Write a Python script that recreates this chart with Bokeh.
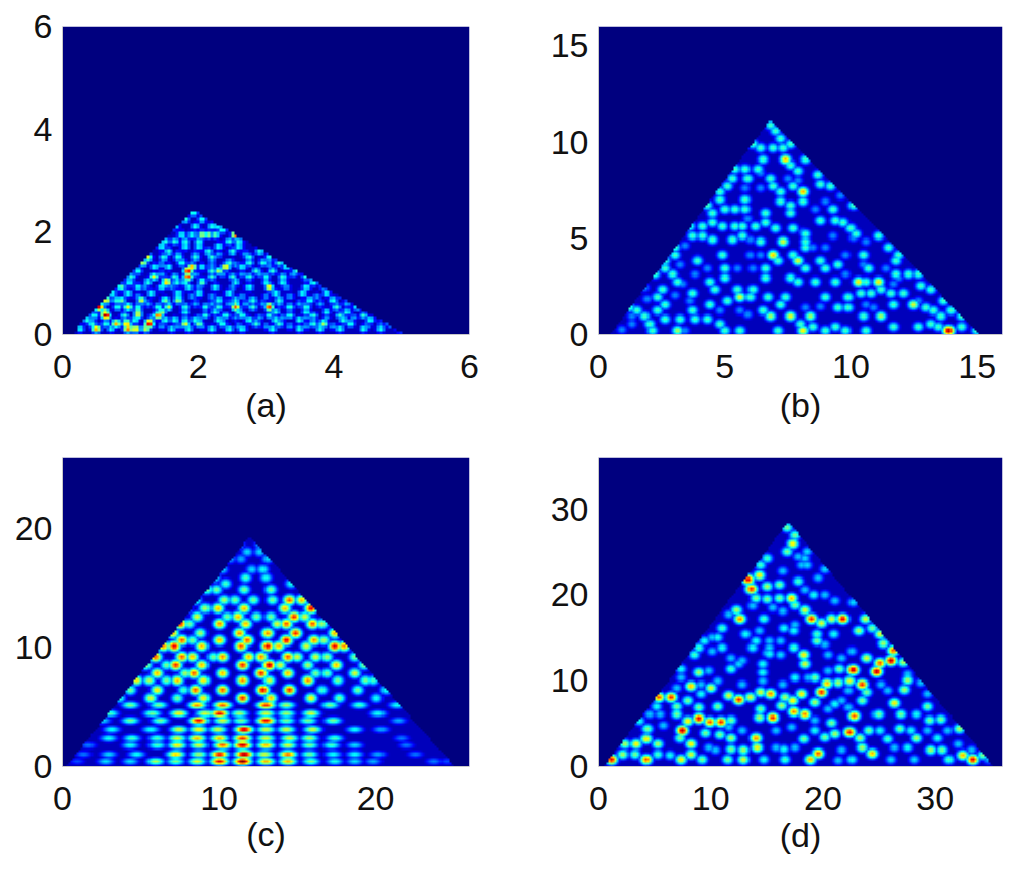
import numpy as np
from bokeh.plotting import figure
from bokeh.layouts import column, row
from bokeh.models import LinearColorMapper, FixedTicker, Title
from bokeh.embed import file_html
from bokeh.resources import INLINE

# triangle corners: left x, right x, apex x, apex y
tri_a = (0.13, 5.02, 1.92, 2.42)
tri_b = (0.47, 15.1, 6.8, 11.2)
tri_c = (0.24, 25.05, 11.95, 19.4)
tri_d = (0.47, 35.2, 16.9, 28.6)

ticks_a = [0, 2, 4, 6]
ticks_b = [0, 5, 10, 15]
ticks_c_x = [0, 10, 20]
ticks_c_y = [0, 10, 20]
ticks_d = [0, 10, 20, 30]
labels = ["(a)", "(b)", "(c)", "(d)"]

# rows: (y, [x or (x, level)])  -- bright spots
rows_a = [
 (2.37,[1.92]),(2.24,[1.8,2.05]),(2.1,[1.65,1.95,2.2,2.27]),(2.03,[2.35]),
 (1.93,[(2.55,.85),(2.05,.6),(2.15,.55),(2.25,.5),1.75,1.9]),
 (1.8,[1.5,1.65,1.8,2.0,2.45,2.6]),(1.7,[1.45,1.8,2.0,2.3,2.6]),(1.6,[1.55,2.15,2.5,2.9]),
 (1.49,[(1.25,.6),1.48,1.7,1.95,2.2,2.75,3.05]),(1.39,[(1.18,.55),1.75,2.45,2.75,2.95,3.2]),
 (1.3,[(1.9,.75),(2.4,.7),1.35,1.55,2.05,2.65,3.3]),
 (1.22,[(1.84,.9),(2.3,.55),1.1,2.2,2.85,3.1,3.45]),
 (1.1,[(1.34,.6),(1.84,.85),1.0,1.65,2.2,2.5,2.75,3.0,3.25,3.6]),
 (1.0,[(1.52,.7),.97,1.25,1.68,1.8,(2.05,.5),2.55,3.0,3.25,3.7]),
 (.9,[(.85,.5),1.1,1.45,1.85,2.25,2.75,(3.05,.7),3.6]),
 (.78,[.72,.95,1.3,1.7,2.0,2.45,3.15,3.55,3.9]),
 (.65,[(.62,.65),.78,(.85,.5),(1.15,.6),(1.5,.5),(1.7,.55),2.3,2.55,2.8,3.2,3.65,4.0]),
 (.52,[(.52,.9),.8,(.95,.6),1.1,1.4,(1.55,.55),1.8,2.1,2.3,(2.55,.8),2.8,(3.05,.85),3.35,3.6,4.05,4.35]),
 (.42,[(.6,.65),(1.1,.6),(1.45,.55),1.8,2.25,2.6,3.15,3.6,3.9,4.2]),
 (.34,[(.62,1.0),.45,.9,(1.1,.6),(1.4,.8),2.1,2.4,2.65,3.05,3.35,3.7,4.1,4.45]),
 (.25,[.35,1.05,1.5,1.65,1.95,2.3,2.75,3.15,3.5,4.15,4.55]),
 (.18,[.42,.62,(.78,.7),(.93,.7),(1.27,.95),(1.8,.6),(2.0,.5),2.35,2.85,3.2,3.7,(3.85,.55),4.25,4.85]),
 (.08,[.24,(.48,.75),.7,(.95,.8),(1.06,.7),(1.22,.6),1.6,1.85,2.2,2.45,2.65,3.1,3.5,3.8,4.1,4.45,4.7,5.0]),
]
faint_a = [
 (1.55,[1.7,1.95,2.3,2.7]),(1.35,[1.45,2.2,2.55,3.05]),(1.15,[1.45,1.95,2.35,2.65,2.9,3.4]),
 (.9,[1.2,1.6,2.0,2.5,3.3,3.85]),(.72,[1.1,1.9,2.2,2.65,3.0,3.35,3.75,4.15]),
 (.58,[1.25,1.95,2.2,2.45,2.7,2.95,3.2,3.5,3.8,4.2]),(.3,[1.3,1.8,2.0,2.55,2.9,3.25,3.6,3.9,4.3,4.7]),
 (.13,[1.45,1.7,2.05,2.6,3.0,3.35,3.6,4.0,4.5,4.7]),
]

rows_b = [
 (10.9,[6.8]),(10.6,[7.0]),(10.2,[7.2]),(9.9,[6.1,7.6]),(9.7,[6.4,6.9,7.3]),
 (9.1,[6.5,(7.4,.7),8.2]),(8.8,[7.6]),(8.6,[5.4,5.8,6.3]),(8.5,[7.9]),(8.3,[8.7]),
 (8.1,[5.3,5.9,6.8]),(7.8,[8.8]),(7.7,[5.1,6.9,7.7,9.2]),(7.4,[4.8,7.2,(8.1,.7)]),
 (7.0,[4.8,5.8]),(6.9,[7.2,8.1]),(6.7,[4.3,7.6,10.1]),(6.5,[5.0,5.4,5.8,9.3]),
 (6.3,[4.5,6.6,7.6]),(5.9,[8.8,9.4]),(5.8,[4.5,6.6,9.7]),(5.6,[3.6,4.1,4.9,5.4,5.7,6.2]),
 (5.5,[7.0,7.7,10.0]),(5.2,[8.2,10.2]),(5.1,[3.7,4.1,5.7,11.1]),(4.9,[4.5,5.3]),
 (4.8,[6.4,(7.3,.6),8.2]),(4.5,[3.0,8.2,11.5]),(4.1,[3.0,4.9,(6.9,.68),7.7,10.5,11.9]),
 (3.8,[2.6,3.9,7.1,(7.9,.6),8.8,11.8]),(3.6,[9.5]),(3.4,[2.6,5.0,6.6,8.2,9.0,10.7]),
 (3.1,[2.2,2.9,11.8,12.3,12.7]),(2.9,[5.0,6.6,7.6]),
 (2.7,[3.1,4.4,7.9,8.6,9.4,(10.3,.65),10.6,(11.1,.65)]),(2.5,[12.8]),
 (2.3,[2.5,4.6,5.5,6.1,11.2,13.2]),(2.1,[3.7,10.4,10.8,11.6,12.1]),
 (1.9,[2.3,(5.6,.6),6.0,6.7,7.4,9.0,9.9]),(1.7,[5.1,13.7]),(1.5,[2.6,4.4,7.2,11.7,(12.5,.6)]),
 (1.35,[1.2,9.5,9.9,13.0]),(1.2,[1.5,2.3,3.7,6.5,13.3,14.0]),
 (.9,[1.8,(6.8,.55),(7.6,.62),(8.4,.55),10.5,(11.2,.55),13.6,14.4]),(.75,[2.6,3.2,3.8,4.3]),
 (.5,[2.0,4.8,8.0,13.2]),(.35,[8.5,9.4,11.7,12.7,13.5,14.4]),
 (.15,[2.1,(3.1,.55),5.0,5.6,7.1,(8.1,.65),9.0,9.8,10.6,(13.9,.97),15.0]),
]
faint_b = [
 (5.5,3.4),(6.1,3.4),(5.8,7.6),(6.4,7.6),(5.9,6.0),(6.4,4.1),(6,4.9),(3.4,4.6),(3.3,2.6),(3.8,3.1),
 (4.3,3.4),(3.9,3.9),(1.9,1.8),(1.8,2.4),(3.6,1.7),(3,2),(3.2,3.6),(5.6,1.2),(4.8,1.2),(8.2,1.35),
 (8.8,1.4),(10.6,1.5),(10.9,1.35),(10.1,5),(10.6,4.8),(9.8,4.1),(9,4.5),(8.5,4.5),(10.5,3.6),(9.8,3.1),
 (9.3,5.1),(8.6,6.5),(9,6.9),(9.6,7.2),(7.9,8),(7.5,8.1),(6.4,8.4),(8.1,5.3),(5.9,1),(3.4,.15),
 (1.3,.5),(.9,.2),(1.3,.9),(6,4.1),(11.9,2.9),(11.4,3.4),(12.7,1.7),(11.7,2.6),
]

rows_c = [
 (18.7,[(11.3,.3),(12.6,.3)]),(18.1,[(11.8,.35),(12.6,.35)]),(17.5,[(10.7,.3),(11.4,.3),(13.1,.35)]),
 (16.6,[(10.2,.35),(12.1,.35),(12.8,.4)]),(15.9,[(9.7,.4),(11.7,.45),(13,.4)]),
 (15.4,[(10.4,.45),(14.6,.4)]),(14.9,[(9.2,.5),(9.8,.5),(11.6,.5),(13.3,.5)]),
 (14.0,[(8.5,.5),(10.3,.55),(11,.5),(12.2,.5),(13.4,.5),(14.5,.8),(15.3,.7)]),
 (13.3,[(7.9,.45),(9.1,.55),(9.9,.7),(11.6,.7),(14.2,.7),(15.9,.9)]),
 (12.6,[(8.6,.6),(10.5,.5),(11.2,.7),(12.4,.5),(13.3,.5),(14.8,.85),(15.5,.6)]),
 (12.0,[(7.5,.85),(8.1,.5),(10,.75),(11.7,.7),(13.7,.6),(14.3,.8),(16,.8),(16.6,.55)]),
 (11.2,[(7,.7),(8.8,.55),(11.3,.75),(13.1,.75),(14.9,.85),(17.4,.7)]),
 (10.6,[(7.6,.8),(8.3,.5),(10,.7),(11.8,.8),(14.3,.9),(16.1,.75),(16.7,.55)]),
 (10.1,[(6.4,.75),(7.1,.9),(8.9,.7),(11.4,.8),(13.1,.9),(13.8,.7),(15.6,.6),(17.4,.9),(18,.75)]),
 (9.2,[(5.9,.8),(7.6,.8),(8.3,.7),(9.6,.5),(10.2,.75),(11.9,.7),(12.7,.75),(14.4,.8),(15,.6),(16.2,.6),(16.9,.55),(18.7,.5)]),
 (8.5,[(5.3,.55),(6.6,.5),(7.2,.85),(8.9,.7),(11.5,.85),(13.2,.95),(13.9,.6),(15.7,.55),(17.5,.7),(19.3,.5)]),
 (7.8,[(6,.7),(7.8,.55),(8.4,.8),(10.2,.7),(12.7,.85),(14.4,.7),(16.2,.5),(16.9,.5),(18.7,.6)]),
 (7.2,[(4.7,.65),(5.5,.55),(6.6,.5),(7.3,.7),(9,.65),(11.5,.75),(13.2,.6),(15.7,.75),(17.6,.5),(19.4,.5),(19.9,.45)]),
 (6.4,[(4.3,.5),(6,.65),(7.7,.45),(8.5,.8),(10.2,.8),(12.8,.9),(14.5,.85),(16.6,.45),(18.9,.5),(20.7,.4)]),
 (5.7,[(3.6,.45),(5.6,.6),(7.3,.5),(9,.65),(11.5,.85),(13.3,.7),(15.9,.65),(17.7,.5),(20.1,.4)]),
 (5.1,[(4.3,.5),(6.1,.5),(8.6,.75),(10.2,.8),(13,.85),(14.3,.55),(17.1,.5),(19,.45),(21.4,.4)]),
 (4.4,[(3,.45),(5.7,.5),(7.4,.65),(9.1,.6),(10,.9),(11.3,.55),(13,.6),(14.3,.55),(15.9,.6),(20.2,.4)]),
 (3.8,[(2.5,.35),(4.3,.5),(6.2,.5),(8.7,.9),(10.2,.6),(11.4,.5),(13,.9),(14.3,.5),(15.7,.5),(17.3,.5),(21.5,.3)]),
 (3.05,[(3.1,.4),(5.6,.4),(7.4,.6),(8.7,.65),(9.9,.6),(11.6,.95),(13,.6),(14.3,.6),(16,.6),(18.7,.4),(20.4,.3)]),
 (2.3,[(2.9,.4),(4.4,.45),(6,.45),(7.3,.6),(8.6,.7),(10,.7),(11.5,.85),(13,.6),(14.5,.6),(15.8,.55),(17.4,.45),(21.7,.25)]),
 (1.7,[(1.6,.25),(4.3,.4),(6,.45),(7.3,.65),(8.7,.6),(10.2,.8),(11.5,.95),(13,.7),(14.4,.6),(15.8,.5),(17.2,.45),(18.7,.35),(22,.25)]),
 (.95,[(1.3,.25),(2.9,.35),(4.7,.4),(7.2,.7),(8.7,.55),(10,.9),(11.6,1.0),(12.9,.6),(14.4,.8),(15.8,.5),(17.3,.4),(18.7,.4),(20.2,.3),(22.6,.25)]),
 (.35,[(.9,.2),(2.7,.35),(4.3,.35),(5.9,.55),(7.2,.5),(8.6,.6),(10,.9),(11.5,1.0),(13,.7),(14.4,.7),(15.9,.5),(17.4,.4),(18.7,.35),(19.9,.3),(23.8,.25),(24.6,.2)]),
]

spots_d = [
 (16.8,27.9,.5),(17.5,27,.5),(17.3,26,.65),(16.8,25.1,.5),(18.6,25.1,.35),(15,24.3,.45),(18.4,24.3,.35),
 (14.4,23.5,.45),(18.6,23.5,.35),(20.2,23,.35),(14.3,22.3,.65),(13.3,21.8,.9),(17.8,21.6,.45),(16.1,21.2,.5),
 (15,21,.55),(13.6,20.7,.85),(14,19.6,.5),(17.2,19.6,.7),(19.2,20,.4),(15,19.5,.5),(16.1,19.6,.5),
 (17.5,18.8,.5),(22.7,19.1,.35),(12.3,18.2,.55),(18.4,18.2,.6),(12.6,17.2,.75),(14.7,17.2,.45),(19,17.2,.85),
 (20.8,17.2,.6),(21.8,17.2,.9),(23.8,17.2,.6),(19.9,16.7,.6),(16.5,16.1,.4),(11,16.1,.45),(24.4,16.1,.5),
 (17.4,15.8,.4),(23.2,15.8,.55),(13.1,15.4,.4),(19.5,15.4,.45),(21,15.4,.4),(25.1,15.4,.6),(10.6,15,.4),
 (14,14.6,.4),(9.4,14.6,.4),(19.5,14.6,.5),(25.4,14.3,.55),(8.9,13.8,.45),(11,13.8,.4),(13.7,13.8,.4),
 (15.2,13.8,.35),(17.4,13.8,.45),(26.3,13.5,.8),(8.5,13,.45),(15.2,13.1,.4),(18.3,13,.65),(23.9,12.6,.6),
 (16.2,13,.35),(26.1,12.3,.95),(25.1,12,.8),(27.2,12.1,.55),(18.4,11.9,.6),(14.6,11.9,.4),(12.5,11.9,.35),
 (21.5,11.3,.5),(22.7,11.2,.95),(24.8,11,.95),(8.9,10.9,.55),(7.3,11.3,.4),(11.8,11.3,.45),(27.6,10,.55),
 (17.5,10.3,.4),(19.3,10.3,.5),(20.4,9.6,.7),(21.4,9.7,.55),(22.4,9.9,.6),(23.5,9.5,.85),(8.2,9.3,.7),
 (10,9.1,.6),(14.6,10.9,.4),(19.9,8.6,.85),(23.9,8.6,.5),(15.3,8.4,.75),(11.6,8.2,.6),(13.5,8,.6),(14.4,8.6,.6),
 (18.1,8.4,.65),(27.3,8.9,.55),(16.6,8,.55),(5.3,8,.8),(6.4,8,.85),(12.5,7.7,.85),(17.3,7.6,.65),(7.9,7.6,.5),
 (9.1,8.4,.4),(26.4,7.3,.65),(23.5,7.6,.5),(19.3,7.4,.55),(5.1,6.9,.4),(6.9,6.9,.5),(8.9,6.8,.5),(10.6,6.9,.5),
 (21.1,7.2,.4),(29.4,6.9,.5),(16.3,7,.55),(14.4,6.6,.5),(6.9,6,.5),(17.4,6.3,.75),(18.4,6,.75),(22.8,5.8,.8),
 (25,6,.5),(27,6,.5),(28.4,6,.4),(30.6,5.4,.5),(14.3,5.6,.55),(15.5,5.6,.85),(8.9,5.5,.9),(9.9,5.1,.8),
 (10.9,5.1,.85),(7.9,5.2,.65),(11.8,5.3,.5),(3.6,5.2,.4),(20.8,5,.5),(29.6,5.3,.5),(4.3,4.3,.5),(7.4,4.1,.95),
 (32.2,4.3,.55),(24.1,4.1,.5),(25.1,4.1,.4),(26.9,4.3,.5),(27.9,4.1,.4),(9.5,3.8,.5),(10.8,3.6,.5),(22.4,3.9,.85),
 (19.3,4.1,.4),(21.1,3.7,.55),(4.2,3.1,.65),(7.2,3.2,.5),(11.8,3.2,.55),(14,3.2,.75),(20.2,3.3,.5),(23.3,3.2,.55),
 (28.4,3.2,.55),(30.3,3.2,.4),(18.3,3.1,.5),(25.8,3.1,.45),(2.3,2.5,.55),(3.3,2.5,.65),(5.2,2.5,.55),(8.2,2.5,.65),
 (11.8,1.9,.5),(14.1,2.1,.65),(19.6,1.4,.8),(23.5,2.1,.55),(30.7,1.8,.5),(29.7,1.8,.55),(27.6,2.1,.4),(16.5,1.9,.4),
 (2.1,1.3,.55),(3.2,1.3,.5),(5.2,1.3,.45),(8.2,1.3,.6),(6.3,1.2,.4),(24.4,1.4,.7),(32.5,1.2,.7),(34.3,1.2,.5),(12.9,1.8,.55),
 (1.1,.7,.9),(4.2,.7,.8),(7.3,.7,.65),(9.2,.7,.5),(11.5,.7,.5),(12.9,.7,.6),(14.7,.7,.4),(16.6,.7,.45),(18.9,.7,.7),
 (22.6,.7,.4),(28.2,.7,.35),(31.3,.7,.45),(33.4,.7,.9),(26.1,.7,.35),(34.8,.7,.3),
]
faint_d = [
 (15.2,14.6),(16.2,14.6),(15,13.2),(12.8,12.3),(11.8,12.6),(10.1,13.4),(9.8,11.1),(10.6,9.9),(9.1,9.5),(12.8,9.5),
 (14.6,9.9),(16.4,9.5),(18.7,10.3),(20.5,11.1),(21.7,12.6),(20.5,13),(20.2,14.2),(22.6,13.4),(27.6,10.7),(25.8,8.8),
 (25.2,9.5),(28.8,9.7),(29.4,8.4),(24.7,6),(20.5,6.6),(19.3,5.3),(17.2,4.5),(15.8,4.1),(12.8,4.1),(11.6,4.5),
 (5.7,4.7),(5.4,6),(4.5,6),(6.9,9.1),(7.3,10.3),(18.1,23.5),(16.4,22.8),(17.8,24.5),(19.6,22),(18.4,20.6),
 (20.2,20),(21.1,19.3),(15.5,18.5),(13.7,18.7),(16.4,18.1),(17.5,16.5),(14.3,15.8),(11.6,17.7),(10.1,15),(22.3,8.8),
 (21.7,7.6),(22.3,6.8),(15.8,2.1),(17.5,2.1),(9.8,2.1),(10.4,1.8),(21.7,1.8),(21.4,.6),(26.4,2.1),(32.1,2.5),
 (33.3,1.8),(31.2,4.1),(29.4,4.1),
]


def jet(n=256):
    out = []
    for i in range(n):
        t = i / (n - 1)
        r = np.clip(min(4 * t - 1.5, -4 * t + 4.5), 0, 1)
        g = np.clip(min(4 * t - 0.5, -4 * t + 3.5), 0, 1)
        b = np.clip(min(4 * t + 0.5, -4 * t + 2.5), 0, 1)
        out.append("#%02x%02x%02x" % (int(r * 255), int(g * 255), int(b * 255)))
    return out


PAL = jet()


def from_rows(rows, default):
    s = []
    for y, xs in rows:
        for item in xs:
            if isinstance(item, tuple):
                s.append((item[0], y, item[1]))
            else:
                s.append((item, y, default))
    return s


def field(spots, tri, xmax, ymax, sx, sy, nx=250, ny=190, wide_below=None):
    x = np.linspace(0, xmax, nx)
    y = np.linspace(0, ymax, ny)
    X, Y = np.meshgrid(x, y)
    Z = np.zeros_like(X)
    for (cx, cy, v) in spots:
        ax, ay = sx, sy
        if wide_below is not None and cy < wide_below:
            ax, ay = sx * 1.45, sy * 0.72
        g = v * np.exp(-((X - cx) ** 2) / (2 * ax ** 2) - ((Y - cy) ** 2) / (2 * ay ** 2))
        Z = np.maximum(Z, g)
    l, r, ax_, ay_ = tri
    left = (Y / ay_) * (ax_ - l) + l
    right = r - (Y / ay_) * (r - ax_)
    inside = (X >= left) & (X <= right) & (Y <= ay_) & (Y >= 0)
    Z = np.maximum(Z, 0.06)
    Z[~inside] = 0.0
    return np.clip(Z, 0, 1)


def panel(z, xmax, ymax, xt, yt, lab, off, stand, wf, hf, bl, br, bb):
    p = figure(frame_width=wf, frame_height=hf, x_range=(0, xmax), y_range=(0, ymax),
               output_backend="svg", toolbar_location=None,
               min_border_left=bl, min_border_right=br,
               min_border_top=26, min_border_bottom=bb)
    mapper = LinearColorMapper(palette=PAL, low=0, high=1)
    p.image(image=[z], x=0, y=0, dw=xmax, dh=ymax, color_mapper=mapper)
    p.grid.visible = False
    p.outline_line_color = None
    for ax, tk in ((p.xaxis[0], xt), (p.yaxis[0], yt)):
        ax.ticker = FixedTicker(ticks=tk)
        ax.major_label_text_font = "Liberation Sans"
        ax.major_label_text_font_size = "34px"
        ax.major_label_text_color = "#111111"
        ax.minor_tick_line_color = None
        ax.major_tick_in = 0
        ax.major_tick_out = 0
        ax.axis_line_color = "#c8c8c8"
    p.xaxis[0].major_label_standoff = 20
    p.yaxis[0].major_label_standoff = 10
    p.add_layout(Title(text=lab, align="center", offset=off, standoff=stand,
                       text_font="Liberation Sans", text_font_size="34px",
                       text_font_style="normal", text_color="#111111"), "below")
    return p


spots_a = from_rows(rows_a, .42) + [(x, y, .3) for y, xs in faint_a for x in xs]
spots_b = from_rows(rows_b, .45) + [(x, y, .27) for x, y in faint_b]
spots_d_all = spots_d + [(x, y, .33) for x, y in faint_d]

za = field(spots_a, tri_a, 6, 6, .05, .058, nx=140, ny=105)
zb = field(spots_b, tri_b, 16, 16, .165, .19, nx=200, ny=150)
zc = field(from_rows(rows_c, .5), tri_c, 26, 26, .29, .32, nx=200, ny=150, wide_below=5.5)
zd = field(spots_d_all, tri_d, 36, 36, .38, .43, nx=200, ny=150)

pa = panel(za, 6, 6, ticks_a, ticks_a, labels[0], -8, 6, 407, 308, 62, 78, 97)
pb = panel(zb, 16, 16, ticks_b, ticks_b, labels[1], 7, 6, 404, 308, 50, 12, 97)
pc = panel(zc, 26, 26, ticks_c_x, ticks_c_y, labels[2], -8, 0, 407, 309, 62, 78, 90)
pd_ = panel(zd, 36, 36, ticks_d, ticks_d, labels[3], 8, 3, 404, 309, 50, 12, 90)

page = column(row(pa, pb), row(pc, pd_))
open("out.html", "w").write(file_html(page, INLINE))
